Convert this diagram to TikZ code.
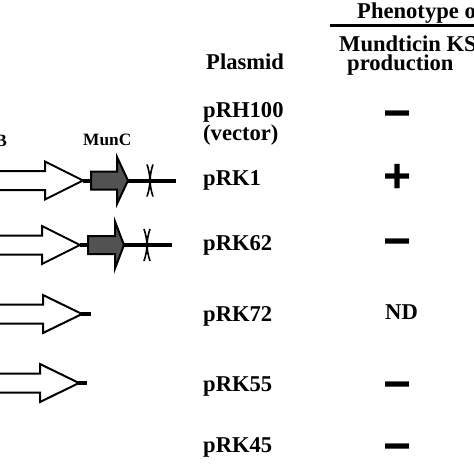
\documentclass[tikz,border=0pt]{standalone}
\usepackage{fontspec}
\setmainfont{Liberation Serif}
\newfontfamily\symfont{Liberation Sans}
\newcommand{\myopenarrow}[3]{% #1 centre y, #2 head base x, #3 tip x
  \draw[openarr] (-6,#1-9.5) -- (#2,#1-9.5) -- (#2,#1-19) -- (#3,#1) -- (#2,#1+19) -- (#2,#1+9.5) -- (-6,#1+9.5) -- cycle;}
\newcommand{\mydarkarrow}[4]{% #1 centre y, #2 box left, #3 head base, #4 tip
  \draw[darkarr] (#2,#1-9) -- (#3,#1-9) -- (#3,#1-23.5) -- (#4,#1) -- (#3,#1+23.5) -- (#3,#1+9) -- (#2,#1+9) -- cycle;}
\newcommand{\mybreak}[2]{% #1 centre y, #2 centre x
  \draw[brk] (#2-3,#1-16) .. controls (#2+0.8,#1-5) and (#2+0.8,#1+5) .. (#2-3,#1+16);
  \draw[brk] (#2+3,#1-16) .. controls (#2-0.8,#1-5) and (#2-0.8,#1+5) .. (#2+3,#1+16);}
\begin{document}
\begin{tikzpicture}[x=1pt,y=-1pt,
  lbl/.style={font=\fontsize{22.6}{23}\selectfont\bfseries, inner sep=0, anchor=base west},
  genelbl/.style={font=\fontsize{17.3}{18}\selectfont\bfseries, inner sep=0, anchor=base west},
  sym/.style={font=\symfont\bfseries\fontsize{48}{48}\selectfont, inner sep=0, anchor=base},
  openarr/.style={draw=black, line width=2pt, fill=white, line join=miter},
  darkarr/.style={draw=black, line width=2pt, fill=black!68, line join=miter},
  dna/.style={line width=4pt},
  brk/.style={line width=1.6pt},
  rulel/.style={line width=3pt}]
\useasboundingbox (0,0) rectangle (474,474);
\fill[white] (0,0) rectangle (474,474);
\clip (0,0) rectangle (474,474);

% headers
\node[lbl] (phen) at (357,18) {Phenotype of};
\coordinate (rl) at (330,25.5);
\coordinate (rr) at (480,25.5);
\draw[rulel] (rl) -- (rr);
\node[lbl] (mund) at (339,51.5) {Mundticin KS};
\node[lbl] (prod) at (347,70) {production};
\node[lbl] (plas) at (206,69) {Plasmid};

% gene labels
\node[genelbl, anchor=base east] (munb) at (7,146) {MunB};
\node[genelbl] (munc) at (83,145) {MunC};

% row 1: pRK1
\coordinate (a1) at (83,180.5); \coordinate (b1) at (91,180.5);
\coordinate (c1) at (128,180.5); \coordinate (d1) at (176,180.5);
\draw[dna] (a1) -- (b1);
\draw[dna] (c1) -- (d1);
\myopenarrow{180.5}{45}{83}
\mydarkarrow{180.5}{91}{117}{128}
\mybreak{180.5}{150}

% row 2: pRK62
\coordinate (a2) at (80,245); \coordinate (b2) at (88,245);
\coordinate (c2) at (124,245); \coordinate (d2) at (172,245);
\draw[dna] (a2) -- (b2);
\draw[dna] (c2) -- (d2);
\myopenarrow{245}{42}{80}
\mydarkarrow{245}{88}{115}{124}
\mybreak{245}{147}

% row 3: pRK72
\coordinate (a3) at (81,314); \coordinate (b3) at (91,314);
\draw[dna] (a3) -- (b3);
\myopenarrow{314}{43}{82}

% row 4: pRK55
\coordinate (a4) at (78,383); \coordinate (b4) at (87,383);
\draw[dna] (a4) -- (b4);
\myopenarrow{383}{40}{79}

% plasmid names
\node[lbl] (p100) at (203,117) {pRH100};
\node[lbl] (vec) at (203,140) {(vector)};
\node[lbl] (p1) at (203,185) {pRK1};
\node[lbl] (p62) at (203,250) {pRK62};
\node[lbl] (p72) at (203,321) {pRK72};
\node[lbl] (p55) at (203,391) {pRK55};
\node[lbl] (p45) at (203,452) {pRK45};

% phenotypes
\node[sym] (s100) at (398,129.5) {−};
\node[sym] (s1) at (398,192) {+};
\node[sym] (s62) at (398,257.5) {−};
\node[lbl] (s72) at (385,319) {ND};
\node[sym] (s55) at (398,400.5) {−};
\node[sym] (s45) at (398,462.5) {−};
\end{tikzpicture}
\end{document}
